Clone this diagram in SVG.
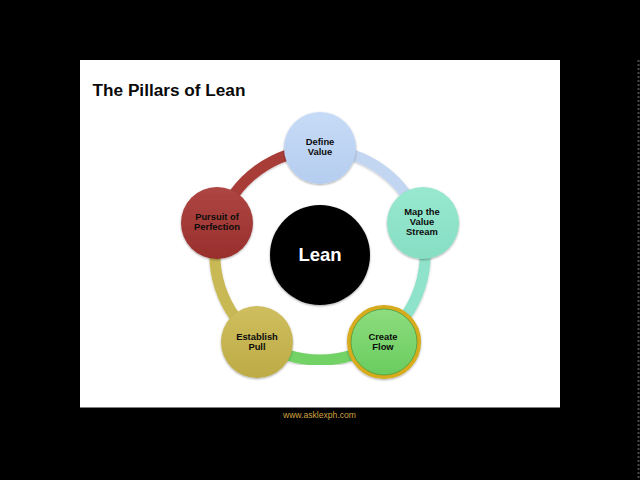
<svg xmlns="http://www.w3.org/2000/svg" width="640" height="480" viewBox="0 0 640 480">
  <style>
    text { font-family: "Liberation Sans", Arial, sans-serif; text-anchor: middle; }
    .lbl { font-size: 9.400px; font-weight: bold; fill: #0c0c0c; }
    .arc { fill: none; stroke-width: 11; filter: url(#soft); }
    .node { filter: url(#shadow); }
  </style>
  <defs>
    <filter id="shadow" x="-20%" y="-20%" width="140%" height="140%">
      <feDropShadow dx="0" dy="1" stdDeviation="1" flood-color="#000" flood-opacity="0.35"/>
    </filter>
    <filter id="soft" x="-20%" y="-20%" width="140%" height="140%">
      <feDropShadow dx="0" dy="1" stdDeviation="0.8" flood-color="#000" flood-opacity="0.25"/>
    </filter>
    <linearGradient id="gBlue" x1="0" y1="0" x2="0" y2="1"><stop offset="0" stop-color="#c6dbf7"/><stop offset="1" stop-color="#b5cdef"/></linearGradient>
    <linearGradient id="gTeal" x1="0" y1="0" x2="0" y2="1"><stop offset="0" stop-color="#97e8cf"/><stop offset="1" stop-color="#86dec3"/></linearGradient>
    <linearGradient id="gGreen" x1="0" y1="0" x2="0" y2="1"><stop offset="0" stop-color="#8fdd7f"/><stop offset="1" stop-color="#68cc5e"/></linearGradient>
    <linearGradient id="gYellow" x1="0" y1="0" x2="0" y2="1"><stop offset="0" stop-color="#cfbe5f"/><stop offset="1" stop-color="#bdab45"/></linearGradient>
    <linearGradient id="gRed" x1="0" y1="0" x2="0" y2="1"><stop offset="0" stop-color="#ae4643"/><stop offset="1" stop-color="#982f2c"/></linearGradient>
  </defs>

  <rect width="640" height="480" fill="#000"/>
  <rect x="80" y="60" width="480" height="347.500" fill="#fff"/>
  <line x1="638.500" y1="60" x2="638.500" y2="480" stroke="#4a4a4a" stroke-width="2" stroke-dasharray="2 2"/>
  <text x="169" y="96" font-size="17.200" font-weight="bold" fill="#0a0a0a">The Pillars of Lean</text>
  <text x="319.500" y="418" font-size="8.600" fill="#d0a040">www.asklexph.com</text>

  <g id="connectors">
    <path class="arc" stroke="#c2d5f1" d="M 320 150 A 105 105 0 0 1 419.900 222.600"/>
    <path class="arc" stroke="#8fe3ca" d="M 419.900 222.600 A 105 105 0 0 1 381.700 340"/>
    <path class="arc" stroke="#73d266" d="M 381.700 340 A 105 105 0 0 1 258.300 340"/>
    <path class="arc" stroke="#c9b955" d="M 258.300 340 A 105 105 0 0 1 220.100 222.600"/>
    <path class="arc" stroke="#a83c39" d="M 220.100 222.600 A 105 105 0 0 1 320 150"/>
  </g>

  <g id="node-lean"><circle class="node" cx="320" cy="255" r="50" fill="#030303"/><text x="320" y="261" font-size="18.500" font-weight="bold" fill="#fff">Lean</text></g>
  <g id="node-define"><circle class="node" cx="320" cy="148" r="36" fill="url(#gBlue)"/><text class="lbl" x="320" y="145">Define</text><text class="lbl" x="320" y="155">Value</text></g>
  <g id="node-map"><circle class="node" cx="423" cy="223" r="36" fill="url(#gTeal)"/><text class="lbl" x="422" y="215">Map the</text><text class="lbl" x="422" y="225">Value</text><text class="lbl" x="422" y="235">Stream</text></g>
  <g id="node-flow"><circle class="node" cx="384" cy="342" r="35" fill="url(#gGreen)" stroke="#d6ab1f" stroke-width="4"/><circle cx="384" cy="342" r="33" fill="none" stroke="#4f9a3c" stroke-width="0.800"/><text class="lbl" x="383" y="340">Create</text><text class="lbl" x="383" y="350">Flow</text></g>
  <g id="node-pull"><circle class="node" cx="257" cy="342" r="36" fill="url(#gYellow)"/><text class="lbl" x="257" y="340">Establish</text><text class="lbl" x="257" y="350">Pull</text></g>
  <g id="node-pursuit"><circle class="node" cx="217" cy="223" r="36" fill="url(#gRed)"/><text class="lbl" x="217" y="220">Pursuit of</text><text class="lbl" x="217" y="230">Perfection</text></g>
</svg>
